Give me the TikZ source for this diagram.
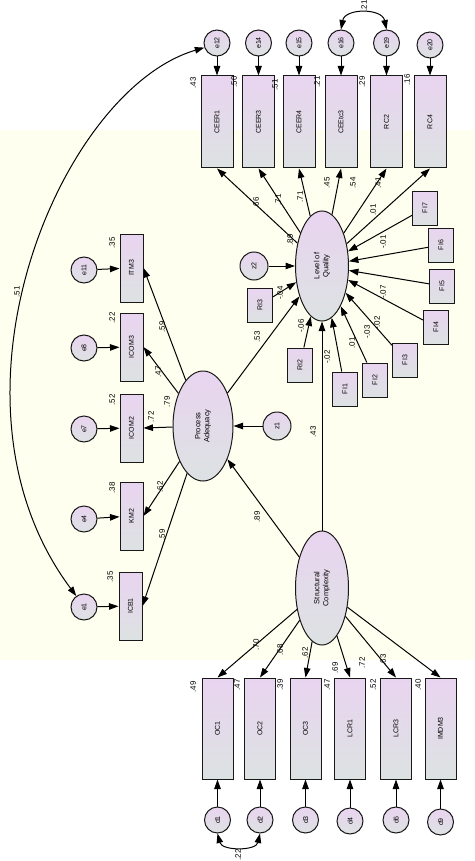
\documentclass[tikz,border=0pt]{standalone}
\usepackage{fontspec}
\setmainfont{Liberation Sans}
\usepackage{graphicx}
\usetikzlibrary{arrows.meta,shapes.geometric}
\definecolor{pk}{RGB}{233,212,240}
\definecolor{gy}{RGB}{220,226,226}
\definecolor{bgy}{RGB}{255,255,240}
\newcommand\vtx[1]{\rotatebox{90}{#1}}
\newcommand\vtwo[2]{\rotatebox{90}{\begin{tabular}{@{}c@{}}#1\\#2\end{tabular}}}
\begin{document}
\begin{tikzpicture}[x=1pt,y=-1pt,
 shadebase/.style={draw=black!90, line width=1pt, top color=pk, bottom color=gy, inner sep=0pt},
 bxtop/.style={shadebase, rectangle, minimum width=32pt, minimum height=92pt, font=\fontsize{7}{8}\selectfont},
 bxbot/.style={shadebase, rectangle, minimum width=31pt, minimum height=101pt, font=\fontsize{7}{8}\selectfont},
 bxpa/.style={shadebase, rectangle, minimum width=23pt, minimum height=68pt, font=\fontsize{7}{8}\selectfont},
 bxsm/.style={shadebase, rectangle, minimum width=25pt, minimum height=34pt, font=\fontsize{7}{8}\selectfont},
 err/.style={shadebase, circle, minimum size=26pt, font=\fontsize{7}{8}\selectfont},
 lat/.style={shadebase, ellipse, minimum width=53pt, minimum height=110pt, font=\fontsize{7.5}{9}\selectfont},
 lab/.style={inner sep=0pt, rotate=90, font=\fontsize{8}{9}\selectfont},
 arr/.style={-{Triangle[length=9.5pt,width=6.5pt]}, line width=1pt},
 dbl/.style={{Triangle[length=9.5pt,width=6.5pt]}-{Triangle[length=9.5pt,width=6.5pt]}, line width=1pt}
]
\fill[white] (0,0) rectangle (474,861);
\fill[bgy] (0,130) rectangle (474,660);
\useasboundingbox (0,0) rectangle (474,861);

% top indicators
\node[bxtop] (CEER1) at (217,122) {\vtx{CEER1}};
\node[bxtop] (CEER3) at (258.5,122) {\vtx{CEER3}};
\node[bxtop] (CEER4) at (299,122) {\vtx{CEER4}};
\node[bxtop] (CEEtc3) at (341,122) {\vtx{CEEtc3}};
\node[bxtop] (RC2) at (386.5,122) {\vtx{RC2}};
\node[bxtop] (RC4) at (430,122) {\vtx{RC4}};
\node[err] (e12) at (217,43) {\vtx{e12}};
\node[err] (e14) at (258.5,43) {\vtx{e14}};
\node[err] (e15) at (299,43) {\vtx{e15}};
\node[err] (e16) at (341,43) {\vtx{e16}};
\node[err] (e19) at (386.5,43) {\vtx{e19}};
\node[err] (e20) at (430,45) {\vtx{e20}};

% level of quality
\node[lat] (LoQ) at (322,266) {\vtwo{Level of}{Quality}};
\node[err, minimum size=28pt] (z2) at (254,266) {\vtx{z2}};
\node[bxsm] (RI3) at (260,305) {\vtx{RI3}};
\node[bxsm] (RI2) at (300,365) {\vtx{RI2}};
\node[bxsm] (FI1) at (345,389) {\vtx{FI1}};
\node[bxsm] (FI2) at (375,380) {\vtx{FI2}};
\node[bxsm] (FI3) at (405,360) {\vtx{FI3}};
\node[bxsm] (FI4) at (436,327) {\vtx{FI4}};
\node[bxsm] (FI5) at (442,286) {\vtx{FI5}};
\node[bxsm] (FI6) at (441,245) {\vtx{FI6}};
\node[bxsm] (FI7) at (425,208) {\vtx{FI7}};

% process adequacy
\node[lat, minimum width=60pt] (PA) at (203,426) {\vtwo{Process}{Adequacy}};
\node[err, minimum size=28pt] (z1) at (277,426) {\vtx{z1}};
\node[bxpa] (ITM3) at (131.5,268) {\vtx{ITM3}};
\node[bxpa] (ICOM3) at (131.5,347) {\vtx{ICOM3}};
\node[bxpa] (ICOM2) at (131.5,428) {\vtx{ICOM2}};
\node[bxpa] (KM2) at (131.5,516) {\vtx{KM2}};
\node[bxpa] (ICB1) at (130.5,606) {\vtx{ICB1}};
\node[err] (e11) at (84,270) {\vtx{e11}};
\node[err] (e8) at (84,348) {\vtx{e8}};
\node[err] (e7) at (84,429) {\vtx{e7}};
\node[err] (e4) at (84,519) {\vtx{e4}};
\node[err] (e1) at (84,607) {\vtx{e1}};

% structural complexity
\node[lat, minimum height=114pt] (SC) at (322,588) {\vtwo{Structural}{Complexity}};
\node[bxbot] (OC1) at (217.5,728.5) {\vtx{OC1}};
\node[bxbot] (OC2) at (260,728.5) {\vtx{OC2}};
\node[bxbot] (OC3) at (305.5,728.5) {\vtx{OC3}};
\node[bxbot] (LCR1) at (350,728.5) {\vtx{LCR1}};
\node[bxbot] (LCR3) at (396,728.5) {\vtx{LCR3}};
\node[bxbot] (IMDM3) at (440.5,728.5) {\vtx{IMDM3}};
\node[err] (d1) at (217.5,820) {\vtx{d1}};
\node[err] (d2) at (260,820) {\vtx{d2}};
\node[err] (d3) at (305.5,820) {\vtx{d3}};
\node[err] (d4) at (350,821) {\vtx{d4}};
\node[err] (d6) at (396,820) {\vtx{d6}};
\node[err] (d9) at (440.5,822) {\vtx{d9}};

% label drawn under arrows
\node[lab] (l53b) at (301,326) {-.06};

% connectors
\foreach \e/\b in {e12/CEER1,e14/CEER3,e15/CEER4,e16/CEEtc3,e19/RC2,e20/RC4,
  e11/ITM3,e8/ICOM3,e7/ICOM2,e4/KM2,e1/ICB1,
  d1/OC1,d2/OC2,d3/OC3,d4/LCR1,d6/LCR3,d9/IMDM3}
  \draw[arr] (\e) -- (\b);
\foreach \b in {CEER1,CEER3,CEER4,CEEtc3,RC2,RC4}
  \draw[arr] (LoQ) -- (\b.south);
\foreach \b in {FI1,FI2,FI3,FI4,FI5,FI6,FI7,RI2,RI3,z2}
  \draw[arr] (\b) -- (LoQ);
\foreach \b in {ITM3,ICOM3,ICOM2,KM2,ICB1}
  \draw[arr] (PA) -- (\b.east);
\foreach \b in {OC1,OC2,OC3,LCR1,LCR3,IMDM3}
  \draw[arr] (SC) -- (\b.north);
\draw[arr] (z1) -- (PA);
\draw[arr] (PA) -- (LoQ);
\draw[arr] (SC) -- (PA);
\draw[arr] (SC) -- (LoQ);
\draw[dbl] (e16.north) .. controls (345,8) and (382,8) .. (e19.north);
\draw[dbl] (d1.south) .. controls (222,851) and (256,851) .. (d2.south);
\draw[dbl] (e12.200) .. controls (60,90) and (-70,400) .. (e1.125);

% labels
\node[lab] (c21) at (364,6) {.21};
\node[lab] (c22) at (238,855) {.22};
\node[lab] (c51) at (17,292) {.51};
\node[lab] (r1) at (193,83) {.43};
\node[lab] (r2) at (234,82) {.50};
\node[lab] (r3) at (275,85) {.51};
\node[lab] (r4) at (317,82) {.21};
\node[lab] (r5) at (362,82) {.29};
\node[lab] (r6) at (407,80) {.16};
\node[lab] (p1) at (256,203) {.66};
\node[lab] (p2) at (278,200) {.71};
\node[lab] (p3) at (300,197) {.71};
\node[lab] (p4) at (327,183) {.45};
\node[lab] (p5) at (353,183) {.54};
\node[lab] (p6) at (378,183) {.41};
\node[lab] (f7) at (373,210) {.01};
\node[lab] (f6) at (383,242) {-.01};
\node[lab] (f5) at (383,292) {-.07};
\node[lab] (f4) at (377,323) {-.02};
\node[lab] (f3) at (367,332) {-.03};
\node[lab] (f2) at (352,343) {.01};
\node[lab] (f1) at (327,357) {-.02};
\node[lab] (q89) at (290,240) {.89};
\node[lab] (q04) at (280,293) {-.04};
\node[lab] (q53) at (257,337) {.53};
\node[lab] (a35) at (112,243) {.35};
\node[lab] (a22) at (112,318) {.22};
\node[lab] (a52) at (112,400) {.52};
\node[lab] (a38) at (112,488) {.38};
\node[lab] (a35b) at (110,577) {.35};
\node[lab] (b59) at (162,327) {.59};
\node[lab] (b47) at (158,372) {.47};
\node[lab] (b79) at (167,402) {.79};
\node[lab] (b72) at (151,417) {.72};
\node[lab] (b62) at (160,487) {.62};
\node[lab] (b59b) at (162,535) {.59};
\node[lab] (s89) at (257,517) {.89};
\node[lab] (s43) at (313,432) {.43};
\node[lab] (g70) at (256,645) {.70};
\node[lab] (g68) at (280,650) {.68};
\node[lab] (g62) at (305,653) {.62};
\node[lab] (g69) at (335,668) {.69};
\node[lab] (g72) at (362,663) {.72};
\node[lab] (g63) at (383,660) {.63};
\node[lab] (h49) at (193,687) {.49};
\node[lab] (h47) at (237,685) {.47};
\node[lab] (h39) at (280,685) {.39};
\node[lab] (h47b) at (327,685) {.47};
\node[lab] (h52) at (373,685) {.52};
\node[lab] (h40) at (418,685) {.40};
\end{tikzpicture}
\end{document}
